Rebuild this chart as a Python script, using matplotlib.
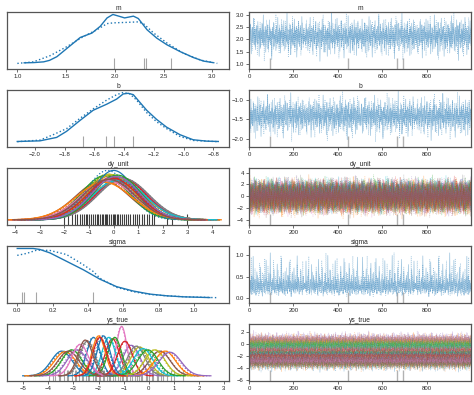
import numpy as np
import matplotlib
matplotlib.use("Agg")
import matplotlib.pyplot as plt

# ------------------------------------------------------------------ data
var_names = ["m", "b", "dy_unit", "sigma", "ys_true"]
div_draws = [95, 447, 665, 694]

# standardized draws read as noise patterns of the traces
z0 = [0.3, -1.2, 0.8, 1.5, -0.4, -2.1, 0.1, 1.1, -0.7, 0.5, 2.2, -1.0, -0.2, 0.9, -1.6, 0.4, 1.3, -0.5, -0.9, 1.8,
      -0.1, 0.6, -2.4, 0.2, 1.0, -1.3, 0.7, -0.3, 1.6, -0.8, 0.0, 2.6, -1.1, 0.5, -0.6, 1.2, -1.9, 0.3, 0.8, -0.2,
      1.4, -1.5, 0.1, -0.7, 2.0, -0.4, 0.9, -1.0, 0.6, -2.8, 0.4, 1.1, -0.3, 1.7, -1.2, 0.2, -0.5, 0.8, -1.7, 1.3,
      0.0, -0.9, 2.3, -0.6, 0.5, -1.4, 1.0, 0.3, -2.0, 0.7, -0.1, 1.5, -0.8, 0.4, -1.1, 1.9, -0.3, 0.6, -1.5, 0.1,
      1.2, -0.6, 3.1, -0.9, 0.2, -1.8, 0.8, 0.5, -0.4, 1.4, -2.2, 0.0, 0.9, -0.7, 1.6, -1.0, 0.3, -0.2, 2.1, -1.3,
      0.7, -0.5, 1.1, -2.5, 0.4, 0.9, -0.8, 1.8, -0.1, -1.2, 0.6, 1.3, -0.4, -1.6, 2.4, -0.3, 0.2, -0.9, 1.0, -0.6]
z1 = [-0.5, 0.9, -1.4, 0.2, 1.7, -0.8, 0.4, -2.3, 1.1, -0.1, 0.6, -1.0, 2.0, -0.6, 0.3, -1.7, 1.4, 0.0, -0.4, 0.8,
      -2.0, 1.2, -0.2, 0.5, -1.1, 2.5, -0.7, 0.1, -1.5, 0.9, 0.3, -0.9, 1.6, -0.3, -2.6, 0.7, 1.0, -0.5, 0.2, -1.3,
      1.9, -0.1, 0.4, -1.8, 0.8, -0.6, 1.3, 0.0, -1.2, 2.2, -0.4, 0.6, -0.9, 1.5, -2.1, 0.3, 0.9, -0.7, 0.1, -1.4,
      1.1, 2.8, -0.8, 0.2, -0.3, 1.7, -1.6, 0.5, -0.2, 1.0, -2.4, 0.4, 0.7, -1.0, 1.2, -0.5, 0.0, -1.9, 1.4, 0.6,
      -0.6, 2.1, -1.2, 0.3, 0.8, -0.4, -3.0, 0.9, 0.1, -0.7, 1.6, -1.1, 0.5, 0.2, -1.5, 1.8, -0.3, 0.7, -0.9, 0.0,
      1.3, -2.2, 0.4, 1.0, -0.6, 0.2, -1.3, 2.3, -0.1, 0.6, -0.8, 1.1, -1.7, 0.3, 0.9, -0.5, 1.5, -1.0, 0.1, -0.2]
z2 = [1.0, -0.3, 0.4, -1.5, 2.1, -0.9, 0.2, 0.7, -1.2, -0.1, 1.6, -2.0, 0.5, 0.9, -0.6, 1.3, -0.4, -1.8, 0.3, 2.4,
      -0.7, 0.1, -1.1, 0.8, 1.4, -0.2, -2.5, 0.6, 0.0, 1.1, -1.3, 0.4, 1.9, -0.8, -0.3, 0.7, -1.6, 1.2, 0.2, -0.5,
      2.7, -1.0, 0.3, -0.2, 1.5, -1.9, 0.6, 0.1, -0.9, 1.0, -0.4, 2.0, -1.4, 0.5, -0.1, 0.8, -2.2, 1.3, -0.6, 0.2,
      -1.0, 1.7, 0.4, -0.7, 0.9, -1.5, 0.0, 2.2, -0.3, 0.6, -1.2, 1.1, -0.8, 0.3, -2.7, 1.4, 0.1, -0.5, 0.7, 1.9,
      -1.1, 0.2, -0.4, 1.6, -1.7, 0.5, 0.8, -0.2, 1.2, -0.9, 2.9, -0.6, 0.0, -1.3, 0.4, 1.0, -2.0, 0.7, -0.1, 1.5,
      -0.8, 0.3, 1.8, -1.4, 0.1, -0.6, 0.9, -2.3, 1.2, 0.4, -0.2, 1.6, -1.0, 0.5, -0.7, 2.0, -1.5, 0.2, 0.8, -0.4]
z3 = [-1.1, 0.5, 1.9, -0.2, -0.8, 1.2, -1.6, 0.3, 0.7, -2.2, 1.0, 0.1, -0.5, 2.3, -1.0, 0.4, -0.3, 1.5, -1.9, 0.6,
      0.9, -0.7, 0.2, -1.4, 1.7, -0.1, 0.8, -2.9, 1.3, 0.0, -0.6, 2.0, -1.2, 0.5, 1.1, -0.4, -1.7, 0.9, 0.3, 1.6,
      -0.9, -0.2, 2.5, -1.3, 0.6, 0.1, -2.0, 1.0, -0.5, 0.8, 1.4, -1.1, 0.2, -0.7, 1.8, -1.5, 0.4, 0.0, -2.4, 1.2,
      0.7, -0.3, 1.1, -1.0, 2.2, -0.6, 0.3, -1.8, 0.9, 0.5, -0.1, 1.7, -2.3, 0.6, 0.2, -0.8, 1.3, -1.2, 0.4, 2.6,
      -0.4, 0.1, -1.5, 0.8, 1.0, -0.9, 0.3, -2.1, 1.5, -0.2, 0.7, 0.0, -1.3, 1.9, -0.6, 0.4, -1.0, 2.1, -0.3, 0.5,
      -1.7, 1.2, 0.2, -0.5, 0.9, -2.6, 1.4, 0.1, -0.7, 0.6, 1.8, -1.1, 0.3, -0.4, 1.0, -1.9, 0.7, 0.2, -0.8, 1.3]

# scalar posteriors: location / scale per chain
m_loc = [2.12, 2.11]
m_scale = [0.34, 0.33]
b_loc = [-1.42, -1.43]
b_scale = [0.21, 0.22]

sigma_chain0 = [0.22, 0.35, 0.15, 0.41, 0.28, 0.09, 0.52, 0.31, 0.18, 0.97, 0.25, 0.12, 0.38, 0.44, 0.20, 0.07, 0.33, 0.61, 0.26, 0.14,
                0.47, 0.23, 0.36, 0.11, 0.29, 0.72, 0.19, 0.40, 0.16, 0.05, 0.34, 0.27, 0.55, 0.21, 0.13, 0.43, 0.30, 0.88, 0.24, 0.17,
                0.39, 0.10, 0.32, 0.58, 0.22, 0.15, 1.05, 0.28, 0.37, 0.08, 0.25, 0.46, 0.19, 0.31, 0.66, 0.14, 0.35, 0.23, 0.12, 0.42,
                0.29, 0.79, 0.18, 0.33, 0.06, 0.27, 0.50, 0.21, 0.38, 0.16, 0.93, 0.24, 0.13, 0.36, 0.45, 0.20, 0.09, 0.31, 0.62, 0.26,
                0.17, 0.41, 0.28, 0.11, 0.53, 0.34, 0.22, 0.84, 0.15, 0.30, 0.40, 0.04, 0.25, 0.57, 0.19, 0.33, 0.14, 0.70, 0.27, 0.21,
                0.44, 0.12, 0.36, 0.23, 0.98, 0.18, 0.31, 0.48, 0.10, 0.26, 0.39, 0.16, 0.64, 0.22, 0.29, 0.08, 0.35, 0.51, 0.20, 0.32]
sigma_chain1 = [0.30, 0.18, 0.42, 0.12, 0.27, 0.95, 0.21, 0.36, 0.08, 0.49, 0.24, 0.15, 0.33, 0.68, 0.19, 0.40, 0.11, 0.28, 0.54, 0.22,
                0.37, 0.06, 0.26, 0.81, 0.17, 0.31, 0.45, 0.13, 0.23, 0.60, 0.29, 0.14, 0.38, 0.20, 0.92, 0.25, 0.10, 0.34, 0.47, 0.18,
                0.27, 0.74, 0.16, 0.39, 0.21, 0.07, 0.32, 0.56, 0.24, 0.13, 0.43, 0.28, 0.19, 0.87, 0.35, 0.12, 0.26, 0.50, 0.20, 0.30,
                0.09, 0.41, 0.23, 0.65, 0.17, 0.33, 0.14, 0.46, 0.25, 0.99, 0.21, 0.36, 0.11, 0.29, 0.58, 0.18, 0.40, 0.15, 0.27, 0.05,
                0.34, 0.71, 0.22, 0.13, 0.38, 0.26, 0.48, 0.16, 0.31, 0.90, 0.20, 0.09, 0.35, 0.24, 0.62, 0.28, 0.17, 0.42, 0.12, 0.30,
                0.53, 0.19, 0.37, 0.23, 0.78, 0.14, 0.27, 0.44, 0.21, 0.10, 0.32, 0.67, 0.25, 0.18, 0.39, 0.15, 0.86, 0.29, 0.22, 0.35]

# KDE curves (chain 0 solid, chain 1 dotted)
m_kde0_x = [1.07, 1.17, 1.27, 1.33, 1.405, 1.51, 1.645, 1.765, 1.85, 1.92, 1.98, 2.04, 2.10, 2.19, 2.24, 2.33, 2.43, 2.535, 2.67, 2.81, 2.91, 3.0]
m_kde0_y = [0.024, 0.03, 0.048, 0.084, 0.173, 0.378, 0.641, 0.748, 0.912, 1.116, 1.2, 1.159, 1.116, 1.159, 1.102, 0.828, 0.624, 0.461, 0.296, 0.148, 0.066, 0.032]
m_kde1_x = [1.0, 1.165, 1.336, 1.51, 1.68, 1.815, 1.92, 1.985, 2.125, 2.24, 2.295, 2.40, 2.535, 2.706, 2.88, 3.05]
m_kde1_y = [0.01, 0.048, 0.198, 0.42, 0.666, 0.828, 0.978, 0.996, 1.008, 1.02, 0.972, 0.744, 0.504, 0.252, 0.09, 0.01]

b_kde0_x = [-2.119, -1.966, -1.854, -1.787, -1.697, -1.608, -1.517, -1.45, -1.406, -1.372, -1.338, -1.293, -1.248, -1.181, -1.114, -1.024, -0.935, -0.845, -0.766]
b_kde0_y = [0.014, 0.04, 0.18, 0.43, 0.874, 1.292, 1.54, 1.75, 1.96, 1.986, 1.93, 1.61, 1.292, 0.916, 0.6, 0.292, 0.084, 0.028, 0.014]
b_kde1_x = [-2.119, -1.966, -1.877, -1.787, -1.697, -1.608, -1.517, -1.45, -1.406, -1.361, -1.316, -1.248, -1.181, -1.114, -1.024, -0.935, -0.766]
b_kde1_y = [0.005, 0.07, 0.292, 0.54, 0.96, 1.348, 1.708, 1.93, 2.02, 1.96, 1.708, 1.194, 0.82, 0.54, 0.22, 0.056, 0.005]

sigma_kde0_x = [0.0, 0.09, 0.128, 0.185, 0.279, 0.374, 0.468, 0.562, 0.657, 0.751, 0.845, 0.94, 1.09]
sigma_kde0_y = [2.3, 2.3, 2.254, 2.093, 1.702, 1.306, 0.867, 0.52, 0.315, 0.173, 0.094, 0.046, 0.012]
sigma_kde1_x = [0.0, 0.053, 0.11, 0.185, 0.279, 0.374, 0.43, 0.468, 0.562, 0.657, 0.751, 0.845, 0.955, 1.138]
sigma_kde1_y = [1.978, 2.07, 2.222, 2.208, 2.017, 1.541, 1.228, 0.913, 0.488, 0.283, 0.156, 0.094, 0.046, 0.005]

# multi-component variables: posterior centre / spread per component
dy_centers = [0.05, -0.30, 0.20, -0.10, 0.35, -0.45, 0.00, 0.15, -0.20, 0.25, -0.05, 0.10, -0.35,
              0.30, -0.15, 0.05, -0.25, 0.40, -0.10, 0.20, 0.00, -0.40, 0.15, -0.05, 0.10, -0.20]
dy_sds = [0.98, 1.05, 1.10, 0.95, 1.02, 1.08, 0.97, 1.12, 0.93, 1.00, 1.04, 1.15, 0.96,
          1.01, 1.06, 0.99, 1.09, 1.03, 0.94, 1.07, 0.86, 1.13, 0.95, 1.02, 0.98, 1.05]
dy_c1_shift = [0.06, -0.04, 0.03, -0.08, 0.02, 0.05, -0.03, 0.07, -0.05, 0.01, 0.04, -0.06, 0.08,
               -0.02, 0.03, -0.07, 0.05, -0.01, 0.06, -0.04, -0.25, 0.02, -0.05, 0.07, -0.03, 0.04]

ys_centers = [-3.47, -3.33, -3.07, -1.45, -0.69, 0.44, -1.08, -2.45, -0.36, -1.60, -2.20, -2.00, -1.35,
              -0.95, -2.85, -3.20, -2.73, -0.50, 0.25, -0.23, -1.80, 0.65, -0.03, -1.95, 0.85, -2.53]
ys_sds = [0.42, 0.43, 0.40, 0.28, 0.34, 0.42, 0.21, 0.30, 0.36, 0.27, 0.27, 0.26, 0.27,
          0.30, 0.40, 0.42, 0.33, 0.35, 0.40, 0.38, 0.26, 0.42, 0.40, 0.27, 0.44, 0.29]
ys_c1_shift = [0.05, -0.04, 0.03, 0.06, -0.05, 0.02, -0.02, 0.04, -0.06, 0.03, -0.03, 0.05, -0.04,
               0.02, -0.05, 0.04, -0.02, 0.06, -0.03, 0.05, -0.04, 0.03, -0.06, 0.02, -0.05, 0.04]

# divergent sample values (rug in the KDE panels)
m_div = [1.994, 2.30, 2.32, 2.58]
b_div = [-1.675, -1.522, -1.468, -1.338]
sigma_div = [0.028, 0.037, 0.104, 0.426]
dy_div = [-2.01, -1.84, -1.70, -1.57, -1.47, -1.36, -1.30, -1.20, -1.12, -1.07, -0.99, -0.93, -0.85,
          -0.76, -0.69, -0.62, -0.55, -0.49, -0.42, -0.35, -0.31, -0.26, -0.18, -0.12, -0.04, 0.01,
          0.05, 0.12, 0.19, 0.26, 0.32, 0.42, 0.50, 0.59, 0.66, 0.77, 0.86, 0.96, 1.04, 1.14, 1.23,
          1.34, 1.45, 1.54, 1.64, 2.15, 2.35, 2.96]
ys_div = [-3.98, -3.83, -3.74, -3.58, -3.52, -3.39, -3.27, -3.21, -3.06, -2.95, -2.91, -2.77, -2.68,
          -2.63, -2.49, -2.41, -2.37, -2.24, -2.16, -2.11, -1.98, -1.94, -1.83, -1.77, -1.66, -1.58,
          -1.55, -1.41, -1.36, -1.22, -1.15, -1.08, -1.01, -0.90, -0.86, -0.73, -0.67, -0.55, -0.47,
          -0.39, -0.30, -0.26, -0.12, -0.06, 0.03, 0.12, 0.17, 0.31, 0.38, 0.49, 0.58, 0.71, 0.90, 1.02, 1.36]

# ------------------------------------------------------------------ style
plt.rcParams["font.family"] = ["Liberation Sans", "DejaVu Sans"]
W, H = 474, 395
fig = plt.figure(figsize=(W / 100, H / 100), dpi=100)
fig.patch.set_facecolor("white")

AH = 57
tops = [12, 90, 168, 246, 324]
LX = (7, 229)
RX = (249, 471)

def rect(xs, top):
    return [xs[0] / W, 1 - (top + AH) / H, (xs[1] - xs[0]) / W, AH / H]

def style(ax):
    for s in ax.spines.values():
        s.set_color("#555555")
        s.set_linewidth(0.9)
    ax.tick_params(direction="out", length=2.5, width=0.6, color="#555555",
                   labelsize=4.3, pad=1.3, labelcolor="#262626")

# chains built by joining the typed noise patterns in different orders
Z = [np.array(z) for z in (z0, z1, z2, z3)]
CH = [np.concatenate([Z[(k + i) % 4] if (k + i) % 2 == 0 else Z[(k + i) % 4][::-1] for i in range(4)])
      for k in range(4)]
NL = len(CH[0])
draws = np.linspace(0, 999, NL)
LS = ["-", ":"]
TR_ALPHA = 0.4
TR_LW = 0.55

def kde_finish(ax, R, divs, title, xlim, xticks, div_alpha=0.35):
    ax.set_ylim(-0.105 * R, 1.05 * R)
    ax.plot(divs, np.full(len(divs), -0.05 * R), ls="none", marker="|", color="k",
            alpha=div_alpha, ms=12, mew=0.8, zorder=-5)
    ax.set_xlim(*xlim)
    ax.set_xticks(xticks)
    ax.set_yticks([])
    ax.set_title(title, fontsize=4.8, pad=1.6, color="#262626")

def trace_finish(ax, ylim, yticks, title):
    ax.set_ylim(*ylim)
    ax.plot(div_draws, np.full(len(div_draws), ylim[0]), ls="none", marker="|", color="k",
            alpha=0.3, ms=16, mew=1.0, zorder=-5)
    ax.set_xlim(0, 999)
    ax.set_xticks([0, 200, 400, 600, 800])
    ax.set_yticks(yticks)
    ax.set_title(title, fontsize=4.8, pad=1.6, color="#262626")

def fmt_ticks(ax, fmt_x=None, fmt_y=None):
    if fmt_x:
        ax.set_xticklabels([fmt_x.format(t).replace("-", "\u2212") for t in ax.get_xticks()])
    if fmt_y:
        ax.set_yticklabels([fmt_y.format(t).replace("-", "\u2212") for t in ax.get_yticks()])

axes = []
for i in range(5):
    axl = fig.add_axes(rect(LX, tops[i]))
    axr = fig.add_axes(rect(RX, tops[i]))
    style(axl)
    style(axr)
    axes.append((axl, axr))

# ---- m
axl, axr = axes[0]
axl.plot(m_kde0_x, m_kde0_y, color="C0", ls="-", lw=1.0)
axl.plot(m_kde1_x, m_kde1_y, color="C0", ls=":", lw=1.0)
kde_finish(axl, 1.2, m_div, "m", (0.894, 3.17), [1.0, 1.5, 2.0, 2.5, 3.0])
fmt_ticks(axl, "{:.1f}")
for c in range(2):
    axr.plot(draws, m_loc[c] + m_scale[c] * CH[c], color="C0", ls=LS[c], lw=TR_LW, alpha=TR_ALPHA)
trace_finish(axr, (0.78, 3.126), [1.0, 1.5, 2.0, 2.5, 3.0], "m")
fmt_ticks(axr, None, "{:.1f}")

# ---- b
axl, axr = axes[1]
axl.plot(b_kde0_x, b_kde0_y, color="C0", ls="-", lw=1.0)
axl.plot(b_kde1_x, b_kde1_y, color="C0", ls=":", lw=1.0)
kde_finish(axl, 2.02, b_div, "b", (-2.188, -0.694), [-2.0, -1.8, -1.6, -1.4, -1.2, -1.0, -0.8])
fmt_ticks(axl, "{:.1f}")
for c in range(2):
    axr.plot(draws, b_loc[c] + b_scale[c] * CH[c + 2], color="C0", ls=LS[c], lw=TR_LW, alpha=TR_ALPHA)
trace_finish(axr, (-2.22, -0.74), [-2.0, -1.5, -1.0], "b")
fmt_ticks(axr, None, "{:.1f}")

# ---- multi-component helper
def multi(axl, axr, centers, sds, shift, divs, title, xlim, xticks, ylim, yticks, div_alpha):
    R = 0.0
    for j, (cm, sd) in enumerate(zip(centers, sds)):
        col = "C{}".format(j % 10)
        for c in range(2):
            mu = cm + (shift[j] if c == 1 else 0.0)
            xs = np.linspace(mu - 3.7 * sd, mu + 3.7 * sd, 120)
            ys = np.exp(-0.5 * ((xs - mu) / sd) ** 2) / (sd * np.sqrt(2 * np.pi))
            R = max(R, ys.max())
            axl.plot(xs, ys, color=col, ls=LS[c], lw=0.9)
            zc = np.roll(CH[(j + 2 * c) % 4], (37 * j + 113 * c) % NL)
            axr.plot(draws, mu + sd * zc, color=col, ls=LS[c], lw=0.5, alpha=0.35)
    kde_finish(axl, R, divs, title, xlim, xticks, div_alpha)
    fmt_ticks(axl, "{:.0f}")
    trace_finish(axr, ylim, yticks, title)
    fmt_ticks(axr, None, "{:.0f}")

axl, axr = axes[2]
multi(axl, axr, dy_centers, dy_sds, dy_c1_shift, dy_div, "dy_unit",
      (-4.32, 4.67), [-4, -3, -2, -1, 0, 1, 2, 3, 4], (-4.83, 4.78), [-4, -2, 0, 2, 4], 0.75)

# ---- sigma
axl, axr = axes[3]
axl.plot(sigma_kde0_x, sigma_kde0_y, color="C0", ls="-", lw=1.0)
axl.plot(sigma_kde1_x, sigma_kde1_y, color="C0", ls=":", lw=1.0)
kde_finish(axl, 2.3, sigma_div, "sigma", (-0.058, 1.198), [0.0, 0.2, 0.4, 0.6, 0.8, 1.0])
fmt_ticks(axl, "{:.1f}")
sig_seq = [sigma_chain0 + sigma_chain1[::-1] + sigma_chain1 + sigma_chain0[::-1],
           sigma_chain1 + sigma_chain0 + sigma_chain0[::-1] + sigma_chain1[::-1]]
for c, s in enumerate(sig_seq):
    axr.plot(np.linspace(0, 999, len(s)), s, color="C0", ls=LS[c], lw=TR_LW, alpha=TR_ALPHA)
trace_finish(axr, (-0.11, 1.21), [0.0, 0.5, 1.0], "sigma")
fmt_ticks(axr, None, "{:.1f}")

# ---- ys_true
axl, axr = axes[4]
multi(axl, axr, ys_centers, ys_sds, ys_c1_shift, ys_div, "ys_true",
      (-5.65, 3.2), [-5, -4, -3, -2, -1, 0, 1, 2, 3], (-6.17, 3.27), [-6, -4, -2, 0, 2], 0.35)

fig.savefig("out.png", dpi=100, facecolor="white")
